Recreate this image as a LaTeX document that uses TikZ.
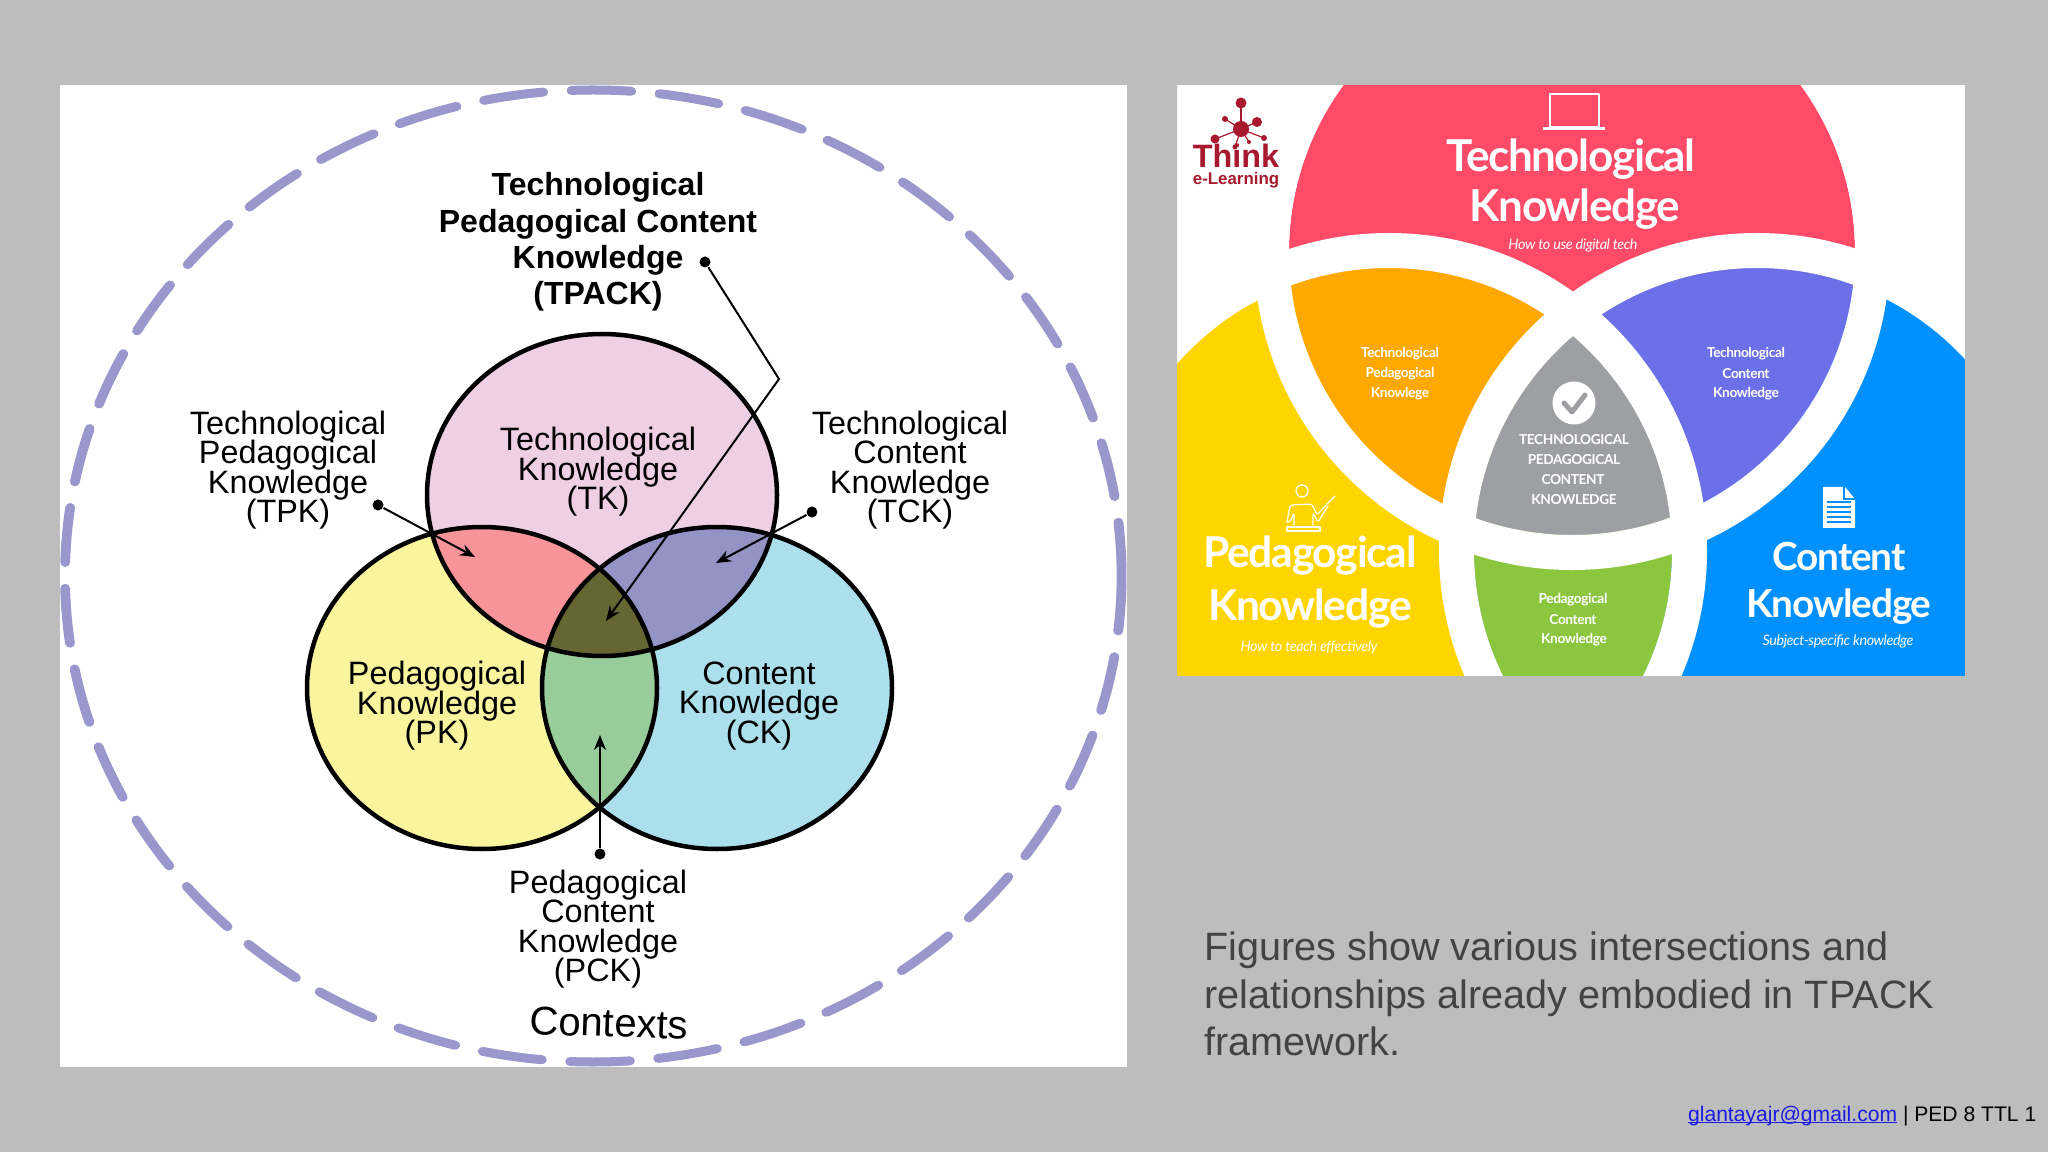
\documentclass[tikz,border=0pt]{standalone}
\usepackage{fontspec}
\setmainfont{Liberation Sans}
\newfontfamily\panelfont[LetterSpace=-3]{Lato}
\usetikzlibrary{arrows.meta}

\definecolor{slidegray}{HTML}{BDBDBD}
\definecolor{ringblue}{HTML}{9A97CC}
\definecolor{tkfill}{HTML}{EFCFE3}
\definecolor{pkfill}{HTML}{F9F49E}
\definecolor{ckfill}{HTML}{ABDFEC}
\definecolor{tpfill}{HTML}{F69499}
\definecolor{tcfill}{HTML}{9393C6}
\definecolor{pcfill}{HTML}{98CC9A}
\definecolor{allfill}{HTML}{666633}
\definecolor{techred}{HTML}{FF4A68}
\definecolor{pedyellow}{HTML}{FFD500}
\definecolor{conblue}{HTML}{0090FF}
\definecolor{tporange}{HTML}{FFA800}
\definecolor{tcviolet}{HTML}{6B6FE8}
\definecolor{pcgreen}{HTML}{8CC63F}
\definecolor{coregray}{HTML}{9D9FA2}
\definecolor{logored}{HTML}{A6192E}
\definecolor{notegray}{HTML}{434343}
\definecolor{maillink}{HTML}{1A1AE6}

% Circles of the two Venn figures
\newcommand{\tkcircle}{(602,495) ellipse [x radius=175, y radius=161]}
\newcommand{\pkcircle}{(482,688) ellipse [x radius=175, y radius=161]}
\newcommand{\ckcircle}{(717,688) ellipse [x radius=175, y radius=161]}
\newcommand{\techdisc}{(1572,252) circle [radius=283]}
\newcommand{\peddisc}{(1389,551) circle [radius=283]}
\newcommand{\condisc}{(1757,551) circle [radius=283]}
\newcommand{\mailline}[1]{\setbox0\hbox{#1}\rlap{\rule[-0.6pt]{\wd0}{0.28pt}}\box0}
\newcommand{\tightlines}{\lineskiplimit=-10pt\relax}

\tikzset{
  lefttext/.style={align=center, font=\fontsize{9.2}{8.4}\selectfont\tightlines, inner sep=0pt},
  boldtext/.style={align=center, font=\fontsize{9.1}{10.3}\selectfont\tightlines\bfseries, inner sep=0pt},
  dotnode/.style={circle, fill=black, inner sep=0pt, minimum size=0.11cm},
  pointer/.style={line width=0.02cm, -{Stealth[length=0.15cm, width=0.12cm]}},
  bigtitle/.style={text=white, inner sep=0pt, font=\fontsize{12.5}{14}\selectfont\panelfont\bfseries},
  midtitle/.style={text=white, inner sep=0pt, font=\fontsize{12.1}{14}\selectfont\panelfont\bfseries},
  contitle/.style={text=white, inner sep=0pt, font=\fontsize{11}{14}\selectfont\panelfont\bfseries},
  subtitle/.style={text=white, inner sep=0pt, font=\fontsize{4.1}{5}\selectfont\panelfont\itshape},
  smalltext/.style={text=white, inner sep=0pt, font=\fontsize{3.9}{5}\selectfont\panelfont\bfseries},
  ringwhite/.style={white, line width=0.35cm},
  iconline/.style={white, line width=0.012cm, line join=round, line cap=round},
  logonet/.style={logored, line width=0.012cm}
}

\begin{document}
\begin{tikzpicture}[x=0.01cm, y=-0.01cm]
% Slide background
\fill[slidegray] (0,0) rectangle (2048,1152);
\fill[white] (60,85) rectangle (1127,1067);
\useasboundingbox (0,0) rectangle (2048,1152);

% Contexts ring
\draw[ringblue, line width=0.09cm, line cap=round, dash pattern=on 0.55cm off 0.2604cm, transform canvas={xscale=1.087}] (545.8,576) circle [radius=486];

% Left Venn fills
\fill[tkfill] \tkcircle;
\fill[pkfill] \pkcircle;
\fill[ckfill] \ckcircle;
\begin{scope}
\clip \tkcircle;
\fill[tpfill] \pkcircle;
\fill[tcfill] \ckcircle;
\clip \pkcircle;
\fill[allfill] \ckcircle;
\end{scope}
\begin{scope}
\clip \pkcircle;
\clip \ckcircle;
\fill[pcfill] (280,320) rectangle (920,880);
\clip \tkcircle;
\fill[allfill] (280,320) rectangle (920,880);
\end{scope}
\draw[line width=0.045cm] \tkcircle;
\draw[line width=0.045cm] \pkcircle;
\draw[line width=0.045cm] \ckcircle;

% Left labels
\node[boldtext] (tpack) at (598,242) {Technological\\Pedagogical Content\\Knowledge\\(TPACK)};
\node[lefttext] (tpk) at (288,470) {Technological\\Pedagogical\\Knowledge\\(TPK)};
\node[lefttext] (tck) at (910,470) {Technological\\Content\\Knowledge\\(TCK)};
\node[lefttext] (tk) at (598,472) {Technological\\Knowledge\\(TK)};
\node[lefttext] (pk) at (437,706) {Pedagogical\\Knowledge\\(PK)};
\node[lefttext] (ck) at (759,706) {Content\\Knowledge\\(CK)};
\node[lefttext] (pck) at (598,929) {Pedagogical\\Content\\Knowledge\\(PCK)};
\node[font=\fontsize{11.4}{12}\selectfont, inner sep=0pt, rotate=-2] (contexts) at (609,1023) {Contexts};

% Pointers
\node[dotnode] (tpkdot) at (378,505) {};
\node[dotnode] (tckdot) at (812,512) {};
\node[dotnode] (pckdot) at (600,854) {};
\node[dotnode] (tpackdot) at (705,262) {};
\coordinate (tpktip) at (475,557);
\coordinate (tcktip) at (716,563);
\coordinate (pcktip) at (600,735);
\coordinate (tpackbend) at (779,379);
\coordinate (tpacktip) at (606,621);
\draw[pointer] (tpkdot) -- (tpktip);
\draw[pointer] (tckdot) -- (tcktip);
\draw[pointer] (pckdot) -- (pcktip);
\draw[pointer] (tpackdot) -- (tpackbend) -- (tpacktip);

% Right panel
\fill[white] (1177,85) rectangle (1965,676);
\begin{scope}
\clip (1177,85) rectangle (1965,676);
\fill[techred] \techdisc;
\fill[pedyellow] \peddisc;
\fill[conblue] \condisc;
\begin{scope}
\clip \techdisc;
\fill[tporange] \peddisc;
\fill[tcviolet] \condisc;
\end{scope}
\begin{scope}
\clip \peddisc;
\fill[pcgreen] \condisc;
\end{scope}
\begin{scope}
\clip \techdisc;
\clip \peddisc;
\fill[coregray] \condisc;
\end{scope}
\draw[ringwhite] (1572,252) circle [radius=300.5];
\draw[ringwhite] (1389,551) circle [radius=300.5];
\draw[ringwhite] (1757,551) circle [radius=300.5];
\end{scope}
\fill[slidegray, even odd rule] (1167,75) rectangle (1975,686) (1177,85) rectangle (1965,676);

% Right panel titles
\node[bigtitle] (techa) at (1571,159) {Technological};
\node[bigtitle] (techb) at (1575,209) {Knowledge};
\node[subtitle] (techsub) at (1573,246) {How to use digital tech};
\node[midtitle] (peda) at (1310,556) {Pedagogical};
\node[midtitle] (pedb) at (1310,609) {Knowledge};
\node[subtitle] (pedsub) at (1309,647) {How to teach effectively};
\node[contitle] (cona) at (1839,557) {Content};
\node[contitle] (conb) at (1839,607) {Knowledge};
\node[subtitle] (consub) at (1838,642) {Subject-specific knowledge};

% Right panel small labels
\node[smalltext] (tpa) at (1400,354) {Technological};
\node[smalltext] (tpb) at (1400,374) {Pedagogical};
\node[smalltext] (tpc) at (1400,394) {Knowlege};
\node[smalltext] (tca) at (1746,354) {Technological};
\node[smalltext] (tcb) at (1746,374) {Content};
\node[smalltext] (tcc) at (1746,394) {Knowledge};
\node[smalltext] (alla) at (1574,440) {TECHNOLOGICAL};
\node[smalltext] (allb) at (1574,460) {PEDAGOGICAL};
\node[smalltext] (allc) at (1573,480) {CONTENT};
\node[smalltext] (alld) at (1574,500) {KNOWLEDGE};
\node[smalltext] (pca) at (1573,600) {Pedagogical};
\node[smalltext] (pcb) at (1573,620) {Content};
\node[smalltext] (pcc) at (1574,640) {Knowledge};

% Check mark
\fill[white] (1574,403) circle [radius=21.5];
\draw[coregray, line width=0.05cm, line cap=round, line join=round] (1564,403) -- (1572,412) -- (1585,395);

% Laptop
\draw[iconline] (1550,94) rectangle (1599,127);
\fill[white] (1543,127) rectangle (1605,130);

% Teacher
\draw[iconline] (1302,491) circle [radius=6];
\draw[iconline, rounded corners=0.03cm] (1287,522) -- (1290,505) -- (1312,504) -- (1317,515) -- (1327,504);
\draw[iconline] (1327,504) -- (1335,496);
\draw[iconline, rounded corners=0.02cm] (1328,506) -- (1318,522) -- (1313,513) -- (1313,525);
\draw[iconline, rounded corners=0.02cm] (1294,525) -- (1294,513) -- (1290,522) -- (1287,522);
\draw[iconline] (1287,527) rectangle (1320,531);

% Document
\fill[white] (1823,487) -- (1845,487) -- (1855,499) -- (1855,528) -- (1823,528) -- cycle;
\foreach \ly in {502,507,512,517,522} {
  \draw[conblue, line width=0.014cm] (1827,\ly) -- (1851,\ly);
}
\draw[conblue, line width=0.012cm] (1844,487) -- (1844,499) -- (1855,499);

% Logo
\foreach \lx/\ly/\lr in {1241/103/5.5, 1257/122/5, 1225/119/3, 1215/139/4.5, 1264/138/3, 1249/142/2, 1235/147/2.5} {
  \draw[logonet] (1241,129) -- (\lx,\ly);
  \fill[logored] (\lx,\ly) circle [radius=\lr];
}
\fill[logored] (1241,129) circle [radius=8];
\node[text=logored, inner sep=0pt, font=\fontsize{9.2}{10}\selectfont\bfseries] (think) at (1236,156) {Think};
\node[text=logored, inner sep=0pt, font=\fontsize{4.8}{6}\selectfont\bfseries] (elearning) at (1236,180) {e-Learning};

% Note and footer
\node[anchor=west, align=left, text=notegray, inner sep=0pt, font=\fontsize{11.25}{13.6}\selectfont] (note) at (1204,994) {Figures show various intersections and\\relationships already embodied in TPACK\\framework.};
\node[anchor=base east, inner sep=0pt, font=\fontsize{6}{7}\selectfont] (footer) at (2037,1121) {\textcolor{maillink}{\mailline{glantayajr@gmail.com}} | PED 8 TTL 1};
\end{tikzpicture}
\end{document}
